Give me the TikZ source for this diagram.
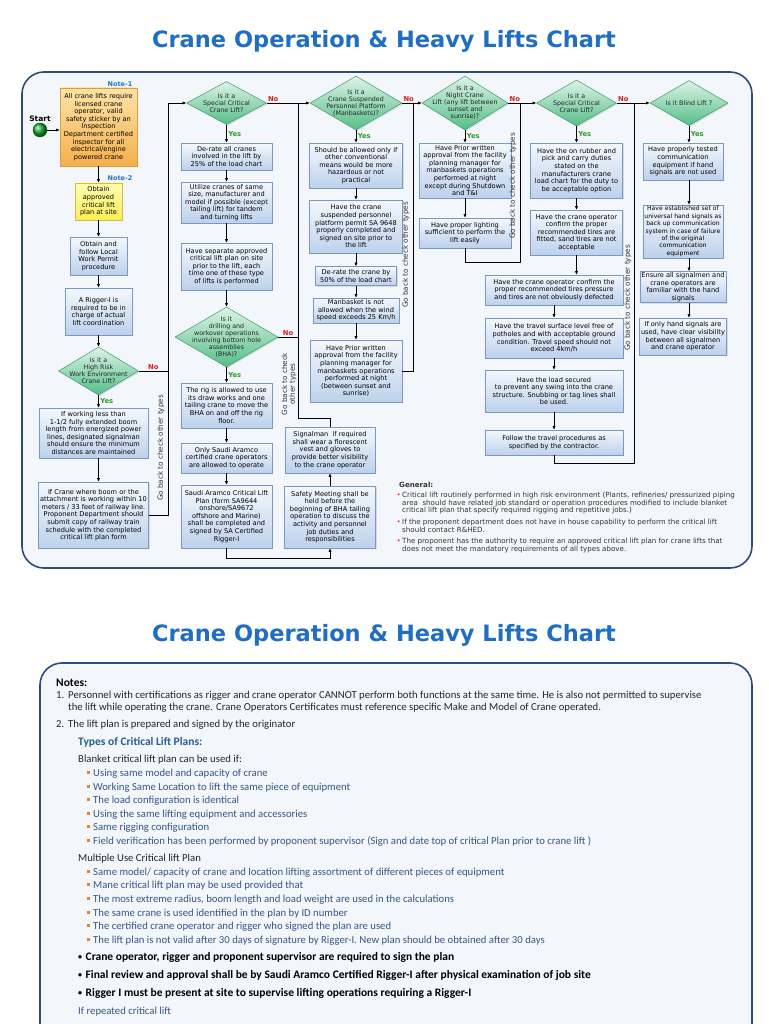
\documentclass[tikz,border=0pt]{standalone}
\usepackage{fontspec}
\setmainfont{DejaVu Sans}
\newfontfamily\notesfont{Carlito}
\usetikzlibrary{shapes.geometric,arrows.meta,shadows}

\definecolor{titleblue}{HTML}{1E6EC8}
\definecolor{panelline}{HTML}{2B4C7E}
\definecolor{panelfill}{HTML}{F3F6FA}
\definecolor{boxline}{HTML}{7898C6}
\definecolor{boxtop}{HTML}{F4F8FD}
\definecolor{boxbot}{HTML}{BDD1EC}
\definecolor{dmline}{HTML}{3F9C6C}
\definecolor{dmtop}{HTML}{DDF3E6}
\definecolor{dmbot}{HTML}{55BE88}
\definecolor{ortop}{HTML}{FDE4A6}
\definecolor{orbot}{HTML}{F5B04A}
\definecolor{orline}{HTML}{D79F3E}
\definecolor{yetop}{HTML}{FFFDB0}
\definecolor{yebot}{HTML}{FBEE55}
\definecolor{yeline}{HTML}{CDBF4A}
\definecolor{yesgreen}{HTML}{2E9B2E}
\definecolor{nored}{HTML}{E41B1B}
\definecolor{notesblue}{HTML}{1F78C8}
\definecolor{startgreen}{HTML}{1FAE3A}
\definecolor{bulred}{HTML}{E2452B}
\definecolor{bulor}{HTML}{E8832A}
\definecolor{listblue}{HTML}{34578A}
\definecolor{typeblue}{HTML}{2A5B9A}

\newcommand\sqbul{\textcolor{bulor}{\rule[2pt]{3pt}{3pt}}\hspace{3pt}}
\newcommand\gbul{\makebox[5.5pt][l]{\textcolor{bulred}{\textbullet}}}
\newcommand\bbul{\makebox[7.5pt][l]{\raisebox{1pt}{\fontsize{8}{8}\selectfont\textbullet}}}

\tikzset{
  panel/.style={draw=panelline, line width=1.6pt, fill=panelfill, rounded corners=22pt},
  title/.style={font=\bfseries\fontsize{22.5}{25}\selectfont, text=titleblue},
  box/.style={rectangle, draw=boxline, line width=0.5pt, top color=boxtop, bottom color=boxbot,
    align=center, inner xsep=1.5pt, inner ysep=1pt, font=\fontsize{6.6}{7.6}\selectfont,
    drop shadow={opacity=0.22, shadow xshift=1.2pt, shadow yshift=-1.2pt}},
  orbox/.style={box, draw=orline, top color=ortop, bottom color=orbot},
  yebox/.style={box, draw=yeline, top color=yetop, bottom color=yebot},
  decision/.style={diamond, draw=dmline, line width=0.5pt, top color=dmtop, bottom color=dmbot,
    inner sep=0pt, drop shadow={opacity=0.22, shadow xshift=1.2pt, shadow yshift=-1.2pt}},
  dtext/.style={align=center, font=\fontsize{6.3}{7}\selectfont, text=black!85, inner sep=0pt},
  arr/.style={-{Latex[length=3.6pt,width=3.2pt]}, line width=0.6pt},
  link/.style={line width=0.6pt},
  yes/.style={right, pos=0.5, font=\bfseries\fontsize{6.8}{7}\selectfont, text=yesgreen, inner sep=1.5pt},
  no/.style={font=\bfseries\fontsize{6.8}{7}\selectfont, text=nored, inner sep=1pt},
  goback/.style={rotate=90, align=center, font=\fontsize{7.2}{7.8}\selectfont, text=black!80, inner sep=0pt},
  notelbl/.style={font=\bfseries\fontsize{6.5}{7}\selectfont, text=notesblue},
  gentxt/.style={anchor=base west, inner sep=0pt, font=\fontsize{7.1}{7.5}\selectfont, text=black!80},
  notetxt/.style={anchor=base west, inner sep=0pt, font=\notesfont\fontsize{10.7}{12}\selectfont, text=black!85},
  listtxt/.style={notetxt, text=listblue},
  boldtxt/.style={notetxt, font=\notesfont\bfseries\fontsize{11.5}{12}\selectfont, text=black},
}

\begin{document}
\begin{tikzpicture}[x=1pt,y=-1pt]
    \useasboundingbox (0,0) rectangle (768,1024);
    \fill[white] (0,0) rectangle (768,1024);

    % Panels and titles
    \draw[panel] (22,72) rectangle (752,568);
    \draw[panel] (40,663) rectangle (752,1070);
    \node[title] (title1) at (384,41) {Crane Operation \& Heavy Lifts Chart};
    \node[title] (title2) at (384,635) {Crane Operation \& Heavy Lifts Chart};

    % Column 1
    \node[circle, shading=ball, ball color=startgreen, draw=green!35!black, minimum size=14pt, inner sep=0pt,
      label={[font=\bfseries\fontsize{7.5}{8}\selectfont, inner sep=1pt]above:Start}] (start) at (40,130) {};
    \node[notelbl] (note1) at (120,84) {Note-1};
    \node[orbox, minimum width=77, minimum height=78] (a1) at (98.5,127) {All crane lifts require\\licensed crane\\operator, valid\\safety sticker by an\\Inspection\\Department certified\\inspector for all\\electrical/engine\\powered crane};
    \node[notelbl] (note2) at (120,178) {Note-2};
    \node[yebox, minimum width=47, minimum height=37] (a2) at (98.5,201.5) {Obtain\\approved\\critical lift\\plan at site};
    \node[box, minimum width=57, minimum height=38] (a3) at (98.5,256) {Obtain and\\follow Local\\Work Permit\\procedure};
    \node[box, minimum width=67, minimum height=47] (a4) at (98.5,311.5) {A Rigger-I is\\required to be in\\charge of actual\\lift coordination};
    \node[decision, minimum width=80, minimum height=48,
      label={[dtext]center:{Is it a\\High Risk\\Work Environment\\Crane Lift?}}] (d1) at (98.5,371) {};
    \node[box, minimum width=109, minimum height=50] (a5) at (93.5,433) {If working less than\\1-1/2 fully extended boom\\length from energized power\\lines, designated signalman\\should ensure the minimum\\distances are maintained};
    \node[box, minimum width=109, minimum height=66] (a6) at (93.5,515) {If Crane where boom or the\\attachment is working within 10\\meters / 33 feet of railway line.\\Proponent Department should\\submit copy of railway train\\schedule with the completed\\critical lift plan form};

    % Column 2
    \node[decision, minimum width=80, minimum height=43,
      label={[dtext]center:{Is it a\\Special Critical\\Crane Lift?}}] (d2) at (226.5,103) {};
    \node[box, minimum width=91, minimum height=27] (b1) at (226.5,156.5) {De-rate all cranes\\involved in the lift by\\25\% of the load chart};
    \node[box, minimum width=91, minimum height=41] (b2) at (226.5,202.5) {Utilize cranes of same\\size, manufacturer and\\model if possible (except\\tailing lift) for tandem\\and turning lifts};
    \node[box, minimum width=91, minimum height=47] (b3) at (226.5,266.5) {Have separate approved\\critical lift plan on site\\prior to the lift, each\\time one of these type\\of lifts is performed};
    \node[decision, minimum width=103, minimum height=60,
      label={[dtext]center:{Is it\\drilling and\\workover operations\\involving bottom hole\\assemblies\\(BHA)?}}] (d3) at (226.5,337) {};
    \node[box, minimum width=91, minimum height=45] (b4) at (226.5,405.5) {The rig is allowed to use\\its draw works and one\\tailing crane to move the\\BHA on and off the rig\\floor.};
    \node[box, minimum width=91, minimum height=30] (b5) at (226.5,458) {Only Saudi Aramco\\certified crane operators\\are allowed to operate};
    \node[box, minimum width=91, minimum height=63] (b6) at (226.5,516.5) {Saudi Aramco Critical Lift\\Plan (form SA9644\\onshore/SA9672\\offshore and Marine)\\shall be completed and\\signed by SA Certified\\Rigger-I};

    % Column 3
    \node[decision, minimum width=92, minimum height=54,
      label={[dtext]center:{Is it a\\Crane Suspended\\Personnel Platform\\(Manbaskets)?}}] (d4) at (356,103) {};
    \node[box, minimum width=93, minimum height=45] (c1) at (356,165.5) {Should be allowed only if\\other conventional\\means would be more\\hazardous or not\\practical};
    \node[box, minimum width=93, minimum height=53] (c2) at (356,226.5) {Have the crane\\suspended personnel\\platform permit SA 9648\\properly completed and\\signed on site prior to\\the lift};
    \node[box, minimum width=81, minimum height=19] (c3) at (356,276) {De-rate the crane by\\50\% of the load chart};
    \node[box, minimum width=86, minimum height=25] (c4) at (356,310.5) {Manbasket is not\\allowed when the wind\\speed exceeds 25 Km/h};
    \node[box, minimum width=92, minimum height=62] (c5) at (356,371) {Have Prior written\\approval from the facility\\planning manager for\\manbaskets operations\\performed at night\\(between sunset and\\sunrise)};
    \node[box, minimum width=90, minimum height=46] (sg) at (330,450) {Signalman\ \ if required\\shall wear a florescent\\vest and gloves to\\provide better visibility\\to the crane operator};
    \node[box, minimum width=91, minimum height=62] (sm) at (330,517) {Safety Meeting shall be\\held before the\\beginning of BHA tailing\\operation to discuss the\\activity and personnel\\job duties and\\responsibilities};

    % Column 4
    \node[decision, minimum width=86, minimum height=54,
      label={[dtext]center:{Is it a\\Night Crane\\Lift (any lift between\\sunset and\\sunrise)?}}] (d5) at (465,103) {};
    \node[box, minimum width=92, minimum height=55] (e1) at (465,170.5) {Have Prior written\\approval from the facility\\planning manager for\\manbaskets operations\\performed at night\\except during Shutdown\\and T\&I};
    \node[box, minimum width=92, minimum height=30] (e2) at (465,233) {Have proper lighting\\sufficient to perform the\\lift easily};

    % Column 5
    \node[decision, minimum width=80, minimum height=46,
      label={[dtext]center:{Is it a\\Special Critical\\Crane Lift?}}] (d6) at (576.5,103) {};
    \node[box, minimum width=92, minimum height=55] (f1) at (576.5,170.5) {Have the on rubber and\\pick and carry duties\\stated on the\\manufacturers crane\\load chart for the duty to\\be acceptable option};
    \node[box, minimum width=92, minimum height=45] (f2) at (576.5,232.5) {Have the crane operator\\confirm the proper\\recommended tires are\\fitted, sand tires are not\\acceptable};
    \node[box, minimum width=138, minimum height=30] (f3) at (554,290) {Have the crane operator confirm the\\proper recommended tires pressure\\and tires are not obviously defected};
    \node[box, minimum width=138, minimum height=40] (f4) at (554,338) {Have the travel surface level free of\\potholes and with acceptable ground\\condition. Travel speed should not\\exceed 4km/h};
    \node[box, minimum width=138, minimum height=42] (f5) at (554,391) {Have the load secured\\to prevent any swing into the crane\\structure. Snubbing or tag lines shall\\be used.};
    \node[box, minimum width=138, minimum height=25] (f6) at (554,442.5) {Follow the travel procedures as\\specified by the contractor.};

    % Column 6
    \node[decision, minimum width=78, minimum height=45,
      label={[dtext]center:{Is it Blind Lift ?}}] (d7) at (689,103) {};
    \node[box, minimum width=80, minimum height=37] (g1) at (683,161.5) {Have properly tested\\communication\\equipment if hand\\signals are not used};
    \node[box, minimum width=80, minimum height=53, font=\fontsize{6.1}{7.4}\selectfont] (g2) at (683,231.5) {Have established set of\\universal hand signals as\\back up communication\\system in case of failure\\of the original\\communication\\equipment};
    \node[box, minimum width=80, minimum height=30] (g3) at (683,287) {Ensure all signalmen and\\crane operators are\\familiar with the hand\\signals};
    \node[box, minimum width=80, minimum height=37] (g4) at (683,336.5) {If only hand signals are\\used, have clear visibility\\between all signalmen\\and crane operator};

    % Loop corners
    \coordinate (ka) at (168,103);
    \coordinate (kb) at (298,103);
    \coordinate (kb2) at (298,418);
    \coordinate (kb3) at (330,558);
    \coordinate (kc) at (413,103);
    \coordinate (kd) at (520,103);
    \coordinate (kd2) at (520,262);
    \coordinate (ke) at (634,103);
    \coordinate (ke2) at (634,463);

    % Connectors, column 1
    \draw[arr] (start) -- (start -| a1.west);
    \draw[arr] (a1) -- (a2);
    \draw[arr] (a2) -- (a3);
    \draw[arr] (a3) -- (a4);
    \draw[arr] (a4) -- (d1);
    \draw[arr] (d1.south) -- node[yes] {Yes} (d1.south |- a5.north);
    \draw[arr] (a5.south -| d1.south) -- (a6.north -| d1.south);
    \draw[link] (d1.east) -- node[no, above] {No} (d1.east -| ka);
    \draw[arr] (a6.east) -| (ka) -- (d2.west);

    % Connectors, column 2
    \draw[arr] (d2) -- node[yes] {Yes} (b1);
    \draw[arr] (b1) -- (b2);
    \draw[arr] (b2) -- (b3);
    \draw[arr] (b3) -- (d3);
    \draw[arr] (d3) -- node[yes] {Yes} (b4);
    \draw[arr] (b4) -- (b5);
    \draw[arr] (b5) -- (b6);
    \draw[arr] (b6.south) |- (kb3) -- (sm.south);
    \draw[arr] (sm) -- (sg);
    \draw[link] (d2.east) -- node[no, pos=0, above right] {No} (kb);
    \draw[link] (d3.east) -- node[no, above] {No} (d3.east -| kb);
    \draw[arr] (sg.north) |- (kb2) -- (kb) -- (d4.west);

    % Connectors, column 3
    \draw[arr] (d4) -- node[yes] {Yes} (c1);
    \draw[arr] (c1) -- (c2);
    \draw[arr] (c2) -- (c3);
    \draw[arr] (c3) -- (c4);
    \draw[arr] (c4) -- (c5);
    \draw[link] (d4.east) -- node[no, pos=0, above right] {No} (kc);
    \draw[arr] (c5.east) -| (kc) -- (d5.west);

    % Connectors, column 4
    \draw[arr] (d5) -- node[yes] {Yes} (e1);
    \draw[arr] (e1) -- (e2);
    \draw[link] (d5.east) -- node[no, pos=0, above right] {No} (kd);
    \draw[arr] (e2.south) |- (kd2) -- (kd) -- (d6.west);

    % Connectors, column 5
    \draw[arr] (d6) -- node[yes] {Yes} (f1);
    \draw[arr] (f1) -- (f2);
    \draw[arr] (f2.south) -- (f2.south |- f3.north);
    \draw[arr] (f3) -- (f4);
    \draw[arr] (f4) -- (f5);
    \draw[arr] (f5) -- (f6);
    \draw[link] (d6.east) -- node[no, pos=0, above right] {No} (ke);
    \draw[arr] (f6.south) |- (ke2) -- (ke) -- (d7.west);

    % Connectors, column 6
    \draw[arr] (d7.south) -- node[yes] {Yes} (d7.south |- g1.north);
    \draw[arr] (g1.south -| d7.south) -- (g2.north -| d7.south);
    \draw[arr] (g2.south -| d7.south) -- (g3.north -| d7.south);
    \draw[arr] (g3.south -| d7.south) -- (g4.north -| d7.south);

    % Go back labels
    \node[goback] (gba) at (161,448) {Go back to check other types};
    \node[goback] (gbb) at (289,384) {Go back to check\\other types};
    \node[goback] (gbc) at (406,255) {Go back to check other types};
    \node[goback] (gbd) at (513,186) {Go back to check other types};
    \node[goback] (gbe) at (628,298) {Go back to check other types};

    % General notes
    \node[gentxt, font=\bfseries\fontsize{7.1}{7.5}\selectfont] (genhead) at (399,487) {General:};
    \node[gentxt] (gen1a) at (396.5,497.5) {\gbul Critical lift routinely performed in high risk environment (Plants, refineries/ pressurized piping};
    \node[gentxt] (gen1b) at (402,505) {area\ \ should have related job standard or operation procedures modified to include blanket};
    \node[gentxt] (gen1c) at (402,512.5) {critical lift plan that specify required rigging and repetitive jobs.)};
    \node[gentxt] (gen2a) at (396.5,524.5) {\gbul If the proponent department does not have in house capability to perform the critical lift};
    \node[gentxt] (gen2b) at (402,532) {should contact R\&HED.};
    \node[gentxt] (gen3a) at (396.5,543.5) {\gbul The proponent has the authority to require an approved critical lift plan for crane lifts that};
    \node[gentxt] (gen3b) at (402,551) {does not meet the mandatory requirements of all types above.};

    % Notes
    \node[boldtxt] (notes) at (56,686) {Notes:};
    \node[notetxt] (n1a) at (56,698) {\makebox[12pt][l]{1.}Personnel with certifications as rigger and crane operator CANNOT perform both functions at the same time. He is also not permitted to supervise};
    \node[notetxt] (n1b) at (68,710) {the lift while operating the crane. Crane Operators Certificates must reference specific Make and Model of Crane operated.};
    \node[notetxt] (n2) at (56,727) {\makebox[12pt][l]{2.}The lift plan is prepared and signed by the originator};
    \node[boldtxt, text=typeblue] (types) at (78,745) {Types of Critical Lift Plans:};
    \node[notetxt] (blanket) at (78,762) {Blanket critical lift plan can be used if:};
    \node[listtxt] (bl1) at (87,776) {\sqbul Using same model and capacity of crane};
    \node[listtxt] (bl2) at (87,790) {\sqbul Working Same Location to lift the same piece of equipment};
    \node[listtxt] (bl3) at (87,803) {\sqbul The load configuration is identical};
    \node[listtxt] (bl4) at (87,817) {\sqbul Using the same lifting equipment and accessories};
    \node[listtxt] (bl5) at (87,830) {\sqbul Same rigging configuration};
    \node[listtxt] (bl6) at (87,844) {\sqbul Field verification has been performed by proponent supervisor (Sign and date top of critical Plan prior to crane lift )};
    \node[notetxt] (multi) at (78,861) {Multiple Use Critical lift Plan};
    \node[listtxt] (mu1) at (87,875) {\sqbul Same model/ capacity of crane and location lifting assortment of different pieces of equipment};
    \node[listtxt] (mu2) at (87,888) {\sqbul Mane critical lift plan may be used provided that};
    \node[listtxt] (mu3) at (87,902) {\sqbul The most extreme radius, boom length and load weight are used in the calculations};
    \node[listtxt] (mu4) at (87,916) {\sqbul The same crane is used identified in the plan by ID number};
    \node[listtxt] (mu5) at (87,929) {\sqbul The certified crane operator and rigger who signed the plan are used};
    \node[listtxt] (mu6) at (87,943) {\sqbul The lift plan is not valid after 30 days of signature by Rigger-I. New plan should be obtained after 30 days};
    \node[boldtxt] (req1) at (78,960) {\bbul Crane operator, rigger and proponent supervisor are required to sign the plan};
    \node[boldtxt] (req2) at (78,978) {\bbul Final review and approval shall be by Saudi Aramco Certified Rigger-I after physical examination of job site};
    \node[boldtxt] (req3) at (78,996) {\bbul Rigger I must be present at site to supervise lifting operations requiring a Rigger-I};
    \node[listtxt] (repeat) at (78,1014) {If repeated critical lift};

\end{tikzpicture}
\end{document}
